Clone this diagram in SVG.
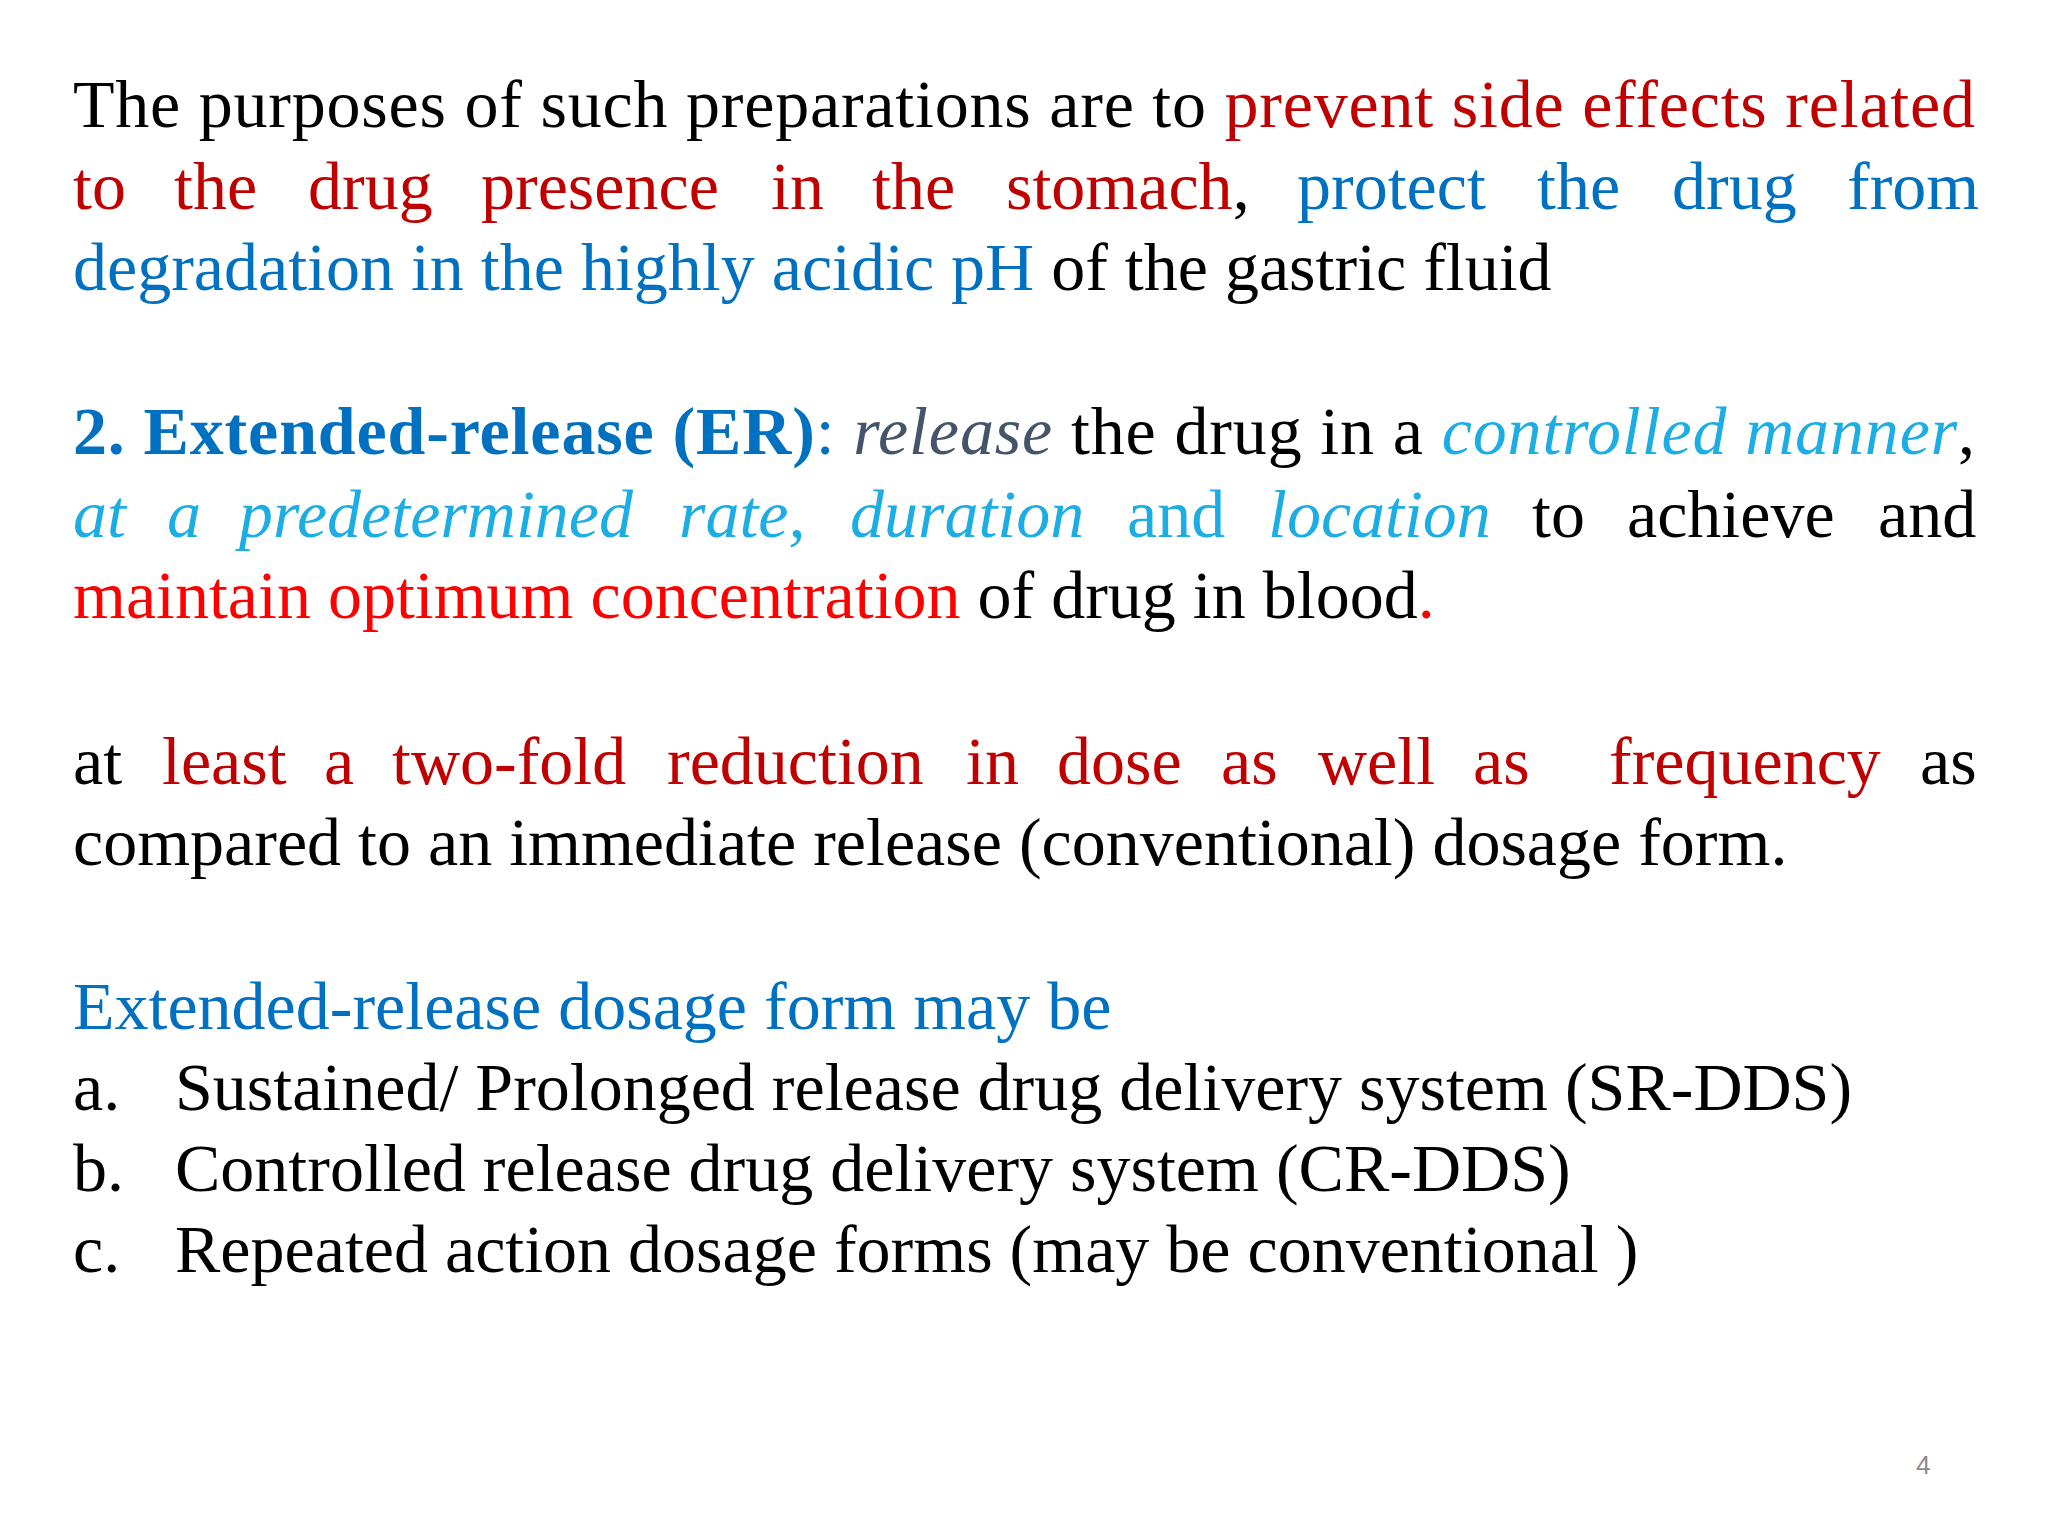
<svg xmlns="http://www.w3.org/2000/svg" width="2048" height="1536" viewBox="0 0 2048 1536">
<style>
text{font-family:"Liberation Serif","Times New Roman",serif;font-size:68px;fill:#000}
.r{fill:#C00000}.b{fill:#0070C0}.lb{fill:#1CADE4}.br{fill:#FF0000}.s{fill:#44546A}
.i{font-style:italic}.bd{font-weight:bold}
</style>
<rect width="2048" height="1536" fill="#fff"/>
<g id="p1">
<text x="73" y="127" textLength="1902" lengthAdjust="spacing">The purposes of such preparations are to <tspan class="r">prevent side effects related</tspan></text>
<text y="209"><tspan class="r" x="73">to</tspan><tspan class="r" x="174">the</tspan><tspan class="r" x="308">drug</tspan><tspan class="r" x="481">presence</tspan><tspan class="r" x="771">in</tspan><tspan class="r" x="872">the</tspan><tspan class="r" x="1006">stomach</tspan>,<tspan class="b" x="1297">protect</tspan><tspan class="b" x="1537">the</tspan><tspan class="b" x="1672">drug</tspan><tspan class="b" x="1847">from</tspan></text>
<text x="73" y="290"><tspan class="b">degradation in the highly acidic pH</tspan> of the gastric fluid</text>
</g>
<g id="p2">
<text x="73" y="454" textLength="1902" lengthAdjust="spacing"><tspan class="b bd">2. Extended-release (ER)</tspan><tspan class="b">: </tspan><tspan class="s i">release</tspan> the drug in a <tspan class="lb i">controlled manner</tspan>,</text>
<text y="537"><tspan class="lb i" x="73">at</tspan><tspan class="lb i" x="167">a</tspan><tspan class="lb i" x="239">predetermined</tspan><tspan class="lb i" x="679">rate,</tspan><tspan class="lb i" x="850">duration</tspan><tspan class="lb" x="1127">and</tspan><tspan class="lb i" x="1268">location</tspan><tspan x="1532">to</tspan><tspan x="1627">achieve</tspan><tspan x="1878">and</tspan></text>
<text x="73" y="618"><tspan class="br">maintain optimum concentration</tspan> of drug in blood<tspan class="br">.</tspan></text>
</g>
<g id="p3">
<text y="784"><tspan x="73">at</tspan><tspan class="r" x="162">least</tspan><tspan class="r" x="324">a</tspan><tspan class="r" x="392">two-fold</tspan><tspan class="r" x="667">reduction</tspan><tspan class="r" x="966">in</tspan><tspan class="r" x="1057">dose</tspan><tspan class="r" x="1221">as</tspan><tspan class="r" x="1318">well</tspan><tspan class="r" x="1473">as</tspan><tspan class="r" x="1609">frequency</tspan><tspan x="1920">as</tspan></text>
<text x="73" y="865">compared to an immediate release (conventional) dosage form.</text>
</g>
<g id="p4">
<text x="73" y="1029" class="b">Extended-release dosage form may be</text>
<text y="1110"><tspan x="73">a.</tspan><tspan x="175">Sustained/ Prolonged release drug delivery system (SR-DDS)</tspan></text>
<text y="1191"><tspan x="73">b.</tspan><tspan x="175">Controlled release drug delivery system (CR-DDS)</tspan></text>
<text y="1272"><tspan x="73">c.</tspan><tspan x="175">Repeated action dosage forms (may be conventional )</tspan></text>
</g>
<text x="1916" y="1474" style="font-family:'Liberation Sans',Arial,sans-serif;font-size:26px;fill:#8C8C8C">4</text>
</svg>
